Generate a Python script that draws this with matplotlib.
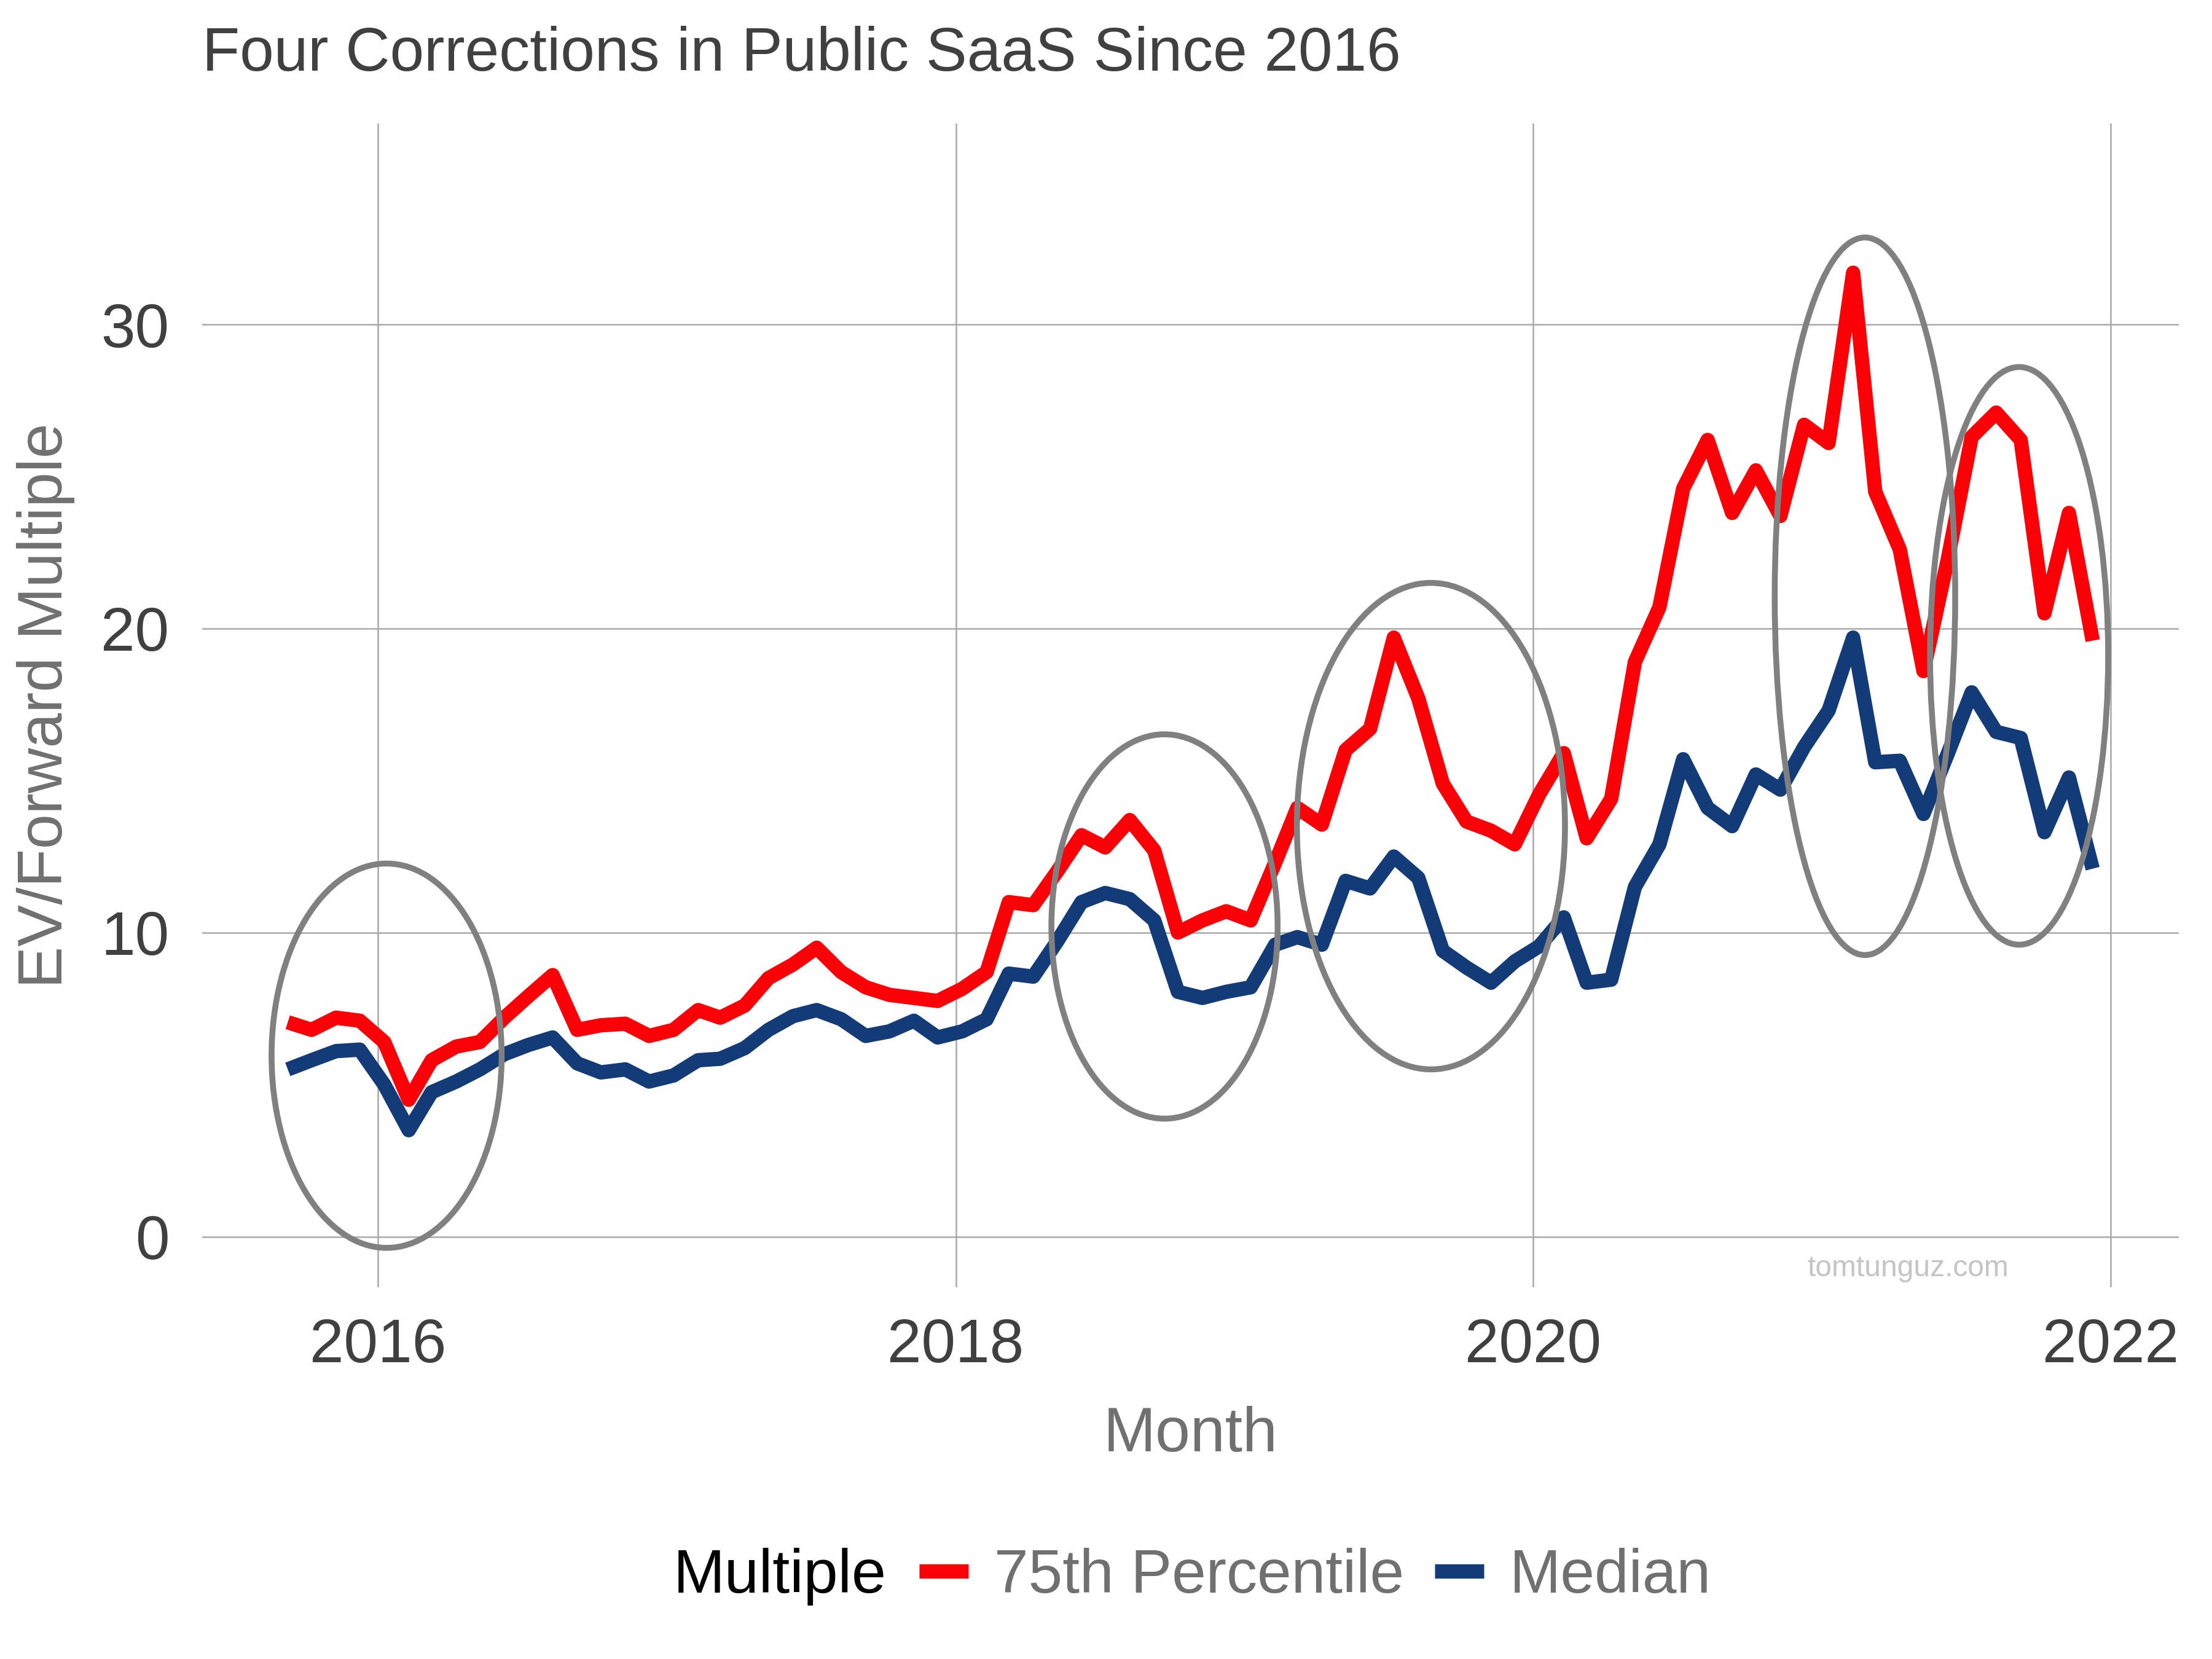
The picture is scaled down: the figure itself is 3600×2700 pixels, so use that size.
import numpy as np
import pandas as pd
import matplotlib
matplotlib.use("Agg")
import matplotlib.pyplot as plt
import matplotlib.dates as mdates
from matplotlib.patches import Ellipse
from matplotlib.lines import Line2D

plt.rcParams["font.family"] = ["Liberation Sans", "DejaVu Sans"]

# monthly EV / forward revenue multiples, Sep 2015 .. Dec 2021
months = pd.date_range("2015-09-01", periods=76, freq="MS") + pd.Timedelta(days=8)
p75 = [7.05, 6.8, 7.2, 7.1, 6.4, 4.5, 5.8, 6.25, 6.4, 7.2, 7.9, 8.6,
       6.8, 6.95, 7.0, 6.6, 6.8, 7.45, 7.2, 7.6, 8.5, 8.95, 9.5, 8.7,
       8.2, 7.95, 7.85, 7.75, 8.15, 8.7, 11.0, 10.9, 12.0, 13.2, 12.8, 13.7,
       12.7, 10.0, 10.4, 10.7, 10.4, 12.3, 14.1, 13.55, 16.0, 16.7, 19.7, 17.7,
       14.9, 13.65, 13.35, 12.9, 14.55, 15.9, 13.1, 14.4, 18.9, 20.7, 24.6, 26.2,
       23.8, 25.2, 23.7, 26.7, 26.1, 31.7, 24.5, 22.6, 18.6, 22.3, 26.3, 27.1,
       26.2, 20.5, 23.8, 19.6]
median = [5.5, 5.8, 6.1, 6.15, 5.0, 3.5, 4.75, 5.1, 5.5, 6.0, 6.3, 6.55,
          5.7, 5.4, 5.5, 5.1, 5.3, 5.8, 5.85, 6.2, 6.8, 7.25, 7.45, 7.15,
          6.6, 6.75, 7.1, 6.55, 6.75, 7.15, 8.65, 8.55, 9.7, 11.0, 11.3, 11.1,
          10.4, 8.05, 7.85, 8.05, 8.2, 9.6, 9.85, 9.6, 11.7, 11.45, 12.5, 11.8,
          9.4, 8.85, 8.35, 9.05, 9.55, 10.5, 8.35, 8.45, 11.5, 12.9, 15.7, 14.1,
          13.5, 15.2, 14.7, 16.1, 17.3, 19.7, 15.6, 15.65, 13.9, 15.9, 17.9, 16.6,
          16.4, 13.3, 15.1, 12.1]

# corrections: centre date, half width (months), centre value, half height
corr_dates = ["2016-01-12", "2018-09-22", "2019-08-25", "2021-02-24", "2021-09-07"]
corr_halfw = [4.78, 4.7, 5.57, 3.75, 3.7]
corr_y = [5.95, 10.2, 13.5, 21.06, 19.1]
corr_halfh = [6.32, 6.32, 8.0, 11.8, 9.5]

red = "#FC0008"
blue = "#133B78"
grid_c = "#A8A8A8"

fig = plt.figure(figsize=(12, 9), dpi=300)
ax = fig.add_axes([0.0915, 0.224, 0.8935, 0.7014])

ax.plot(months, p75, color=red, lw=5.6, solid_capstyle="butt", solid_joinstyle="round", zorder=3)
ax.plot(months, median, color=blue, lw=5.6, solid_capstyle="butt", solid_joinstyle="round", zorder=3)

for d, hw, cy, hh in zip(corr_dates, corr_halfw, corr_y, corr_halfh):
    cx = mdates.date2num(pd.Timestamp(d))
    e = Ellipse((cx, cy), width=2 * hw * 30.44, height=2 * hh,
                fill=False, edgecolor="#808080", lw=2.3, zorder=4)
    ax.add_patch(e)

ax.set_xlim(mdates.date2num(pd.Timestamp("2015-05-24")), mdates.date2num(pd.Timestamp("2022-03-28")))
ax.set_ylim(-1.67, 36.6)
ax.xaxis.set_major_locator(mdates.YearLocator(2))
ax.xaxis.set_major_formatter(mdates.DateFormatter("%Y"))
ax.set_yticks([0, 10, 20, 30])

ax.grid(color=grid_c, linewidth=0.6)
ax.set_axisbelow(True)
for s in ax.spines.values():
    s.set_visible(False)
ax.tick_params(length=0, labelsize=24, labelcolor="#404040")
ax.tick_params(axis="x", pad=11.8)
ax.tick_params(axis="y", pad=13)

ax.set_xlabel("Month", fontsize=24.5, color="#707070", labelpad=12)
ax.set_ylabel("EV/Forward Multiple", fontsize=24.5, color="#707070", labelpad=10)

fig.text(0.0913, 0.967, "Four Corrections in Public SaaS Since 2016", fontsize=24,
         color="#404040", va="center", ha="left")
ax.text(0.863, 0.016, "tomtunguz.com", transform=ax.transAxes, fontsize=11.5,
        color="#C4C4C4", ha="center", va="center")

fig.text(0.3044, 0.0495, "Multiple", fontsize=24.2, color="black", va="center", ha="left")
handles = [Line2D([], [], color=red, lw=5.6, solid_capstyle="butt"),
           Line2D([], [], color=blue, lw=5.6, solid_capstyle="butt")]
leg = fig.legend(handles, ["75th Percentile", "Median"], ncol=2, loc="center left",
                 bbox_to_anchor=(0.3905, 0.0495), frameon=False, fontsize=24,
                 handlelength=0.8, handletextpad=0.42, columnspacing=0.5)
for t in leg.get_texts():
    t.set_color("#707070")

fig.savefig("out.png", dpi=300, facecolor="white")
